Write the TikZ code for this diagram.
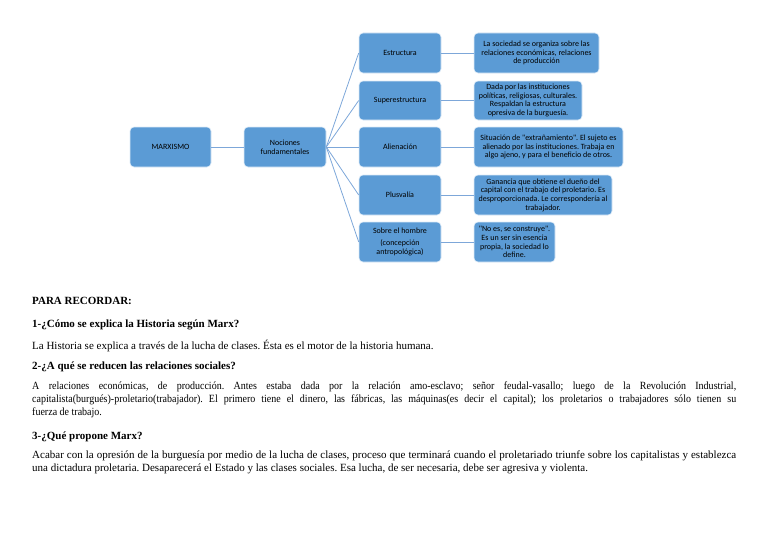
\documentclass[tikz,border=0pt]{standalone}
\usepackage{fontspec}
\setmainfont{Liberation Serif}
\newfontfamily\boxfont{Carlito}
\newfontfamily\narrowfont[FakeStretch=0.91]{Liberation Serif}
\frenchspacing
\definecolor{boxblue}{RGB}{91,155,213}
\definecolor{linkblue}{RGB}{125,167,217}
\tikzset{
  concept/.style={draw=white!80!boxblue, line width=0.6pt, fill=boxblue, rounded corners=4pt,
    align=center, inner sep=1pt, font=\boxfont\fontsize{8}{8.7}\selectfont, text=black},
  link/.style={draw=linkblue, line width=0.8pt},
  heading/.style={anchor=base west, inner sep=0pt, font=\bfseries\fontsize{11}{13}\selectfont},
  para/.style={anchor=north west, inner sep=0pt, text width=704pt, align=justify,
    font=\fontsize{11}{13}\selectfont}
}
\begin{document}
\begin{tikzpicture}[x=1pt,y=-1pt]
  \useasboundingbox (0,0) rectangle (768,543);
  % mapa conceptual
  \node[concept, minimum width=81pt, minimum height=40pt] (marx) at (170.5,147) {MARXISMO};
  \node[concept, minimum width=82pt, minimum height=40pt] (noc) at (285,147) {Nociones\\fundamentales};
  \node[concept, minimum width=82pt, minimum height=40pt] (c1) at (400,53) {Estructura};
  \node[concept, minimum width=82pt, minimum height=39pt] (c2) at (400,100.5) {Superestructura};
  \node[concept, minimum width=82pt, minimum height=40pt] (c3) at (400,147) {Alienación};
  \node[concept, minimum width=82pt, minimum height=40pt] (c4) at (400,195) {Plusvalía};
  \node[concept, minimum width=82pt, minimum height=40pt] (c5) at (400,242)
    {Sobre el hombre\\[3pt](concepción\\antropológica)};
  \node[concept, minimum width=125pt, minimum height=40pt] (d1) at (536.5,53)
    {La sociedad se organiza sobre las\\relaciones económicas, relaciones\\de producción};
  \node[concept, minimum width=108pt, minimum height=39pt] (d2) at (528,100.5)
    {Dada por las instituciones\\políticas, religiosas, culturales.\\Respaldan la estructura\\opresiva de la burguesía.};
  \node[concept, minimum width=149pt, minimum height=40pt] (d3) at (548.5,147)
    {Situación de "extrañamiento". El sujeto es\\alienado por las instituciones. Trabaja en\\algo ajeno, y para el beneficio de otros.};
  \node[concept, minimum width=138pt, minimum height=40pt] (d4) at (543,195)
    {Ganancia que obtiene el dueño del\\capital con el trabajo del proletario. Es\\desproporcionada. Le correspondería al\\trabajador.};
  \node[concept, minimum width=81pt, minimum height=40pt] (d5) at (514.5,242)
    {"No es, se construye".\\Es un ser sin esencia\\propia, la sociedad lo\\define.};
  \begin{scope}[link]
    \draw (marx) to (noc);
    \draw (noc.east) to (c1.west);
    \draw (noc.east) to (c2.west);
    \draw (noc.east) to (c3.west);
    \draw (noc.east) to (c4.west);
    \draw (noc.east) to (c5.west);
    \draw (c1) to (d1);
    \draw (c2) to (d2);
    \draw (c3) to (d3);
    \draw (c4) to (d4);
    \draw (c5) to (d5);
  \end{scope}
  % texto
  \node[heading] (h0) at (32,304) {PARA RECORDAR:};
  \node[heading] (h1) at (32,327) {1-¿Cómo se explica la Historia según Marx?};
  \node[anchor=base west, inner sep=0pt, font=\fontsize{11}{13}\selectfont] (p1) at (32,349)
    {La Historia se explica a través de la lucha de clases. Ésta es el motor de la historia humana.};
  \node[heading] (h2) at (32,369) {2-¿A qué se reducen las relaciones sociales?};
  \node[para, font=\narrowfont\fontsize{11}{13}\selectfont] (p2) at (32,382)
    {A relaciones económicas, de producción. Antes estaba dada por la relación amo-esclavo; señor feudal-vasallo; luego de la Revolución Industrial,\linebreak
     capitalista(burgués)-proletario(trabajador). El primero tiene el dinero, las fábricas, las máquinas(es decir el capital); los proletarios o trabajadores sólo tienen su\linebreak
     fuerza de trabajo.};
  \node[heading] (h3) at (32,439) {3-¿Qué propone Marx?};
  \node[para] (p3) at (32,451)
    {Acabar con la opresión de la burguesía por medio de la lucha de clases, proceso que terminará cuando el proletariado triunfe sobre los capitalistas y establezca\linebreak
     una dictadura proletaria. Desaparecerá el Estado y las clases sociales. Esa lucha, de ser necesaria, debe ser agresiva y violenta.};
\end{tikzpicture}
\end{document}
